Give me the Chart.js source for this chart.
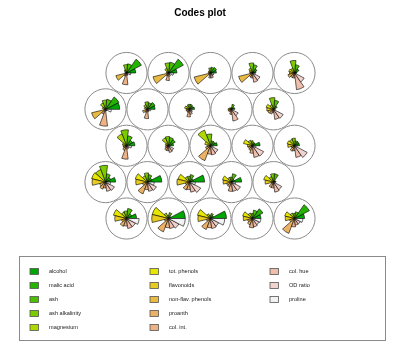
<!DOCTYPE html>
<html>
<head>
<meta charset="utf-8">
<script src="https://cdn.jsdelivr.net/npm/chart.js@4.4.1/dist/chart.umd.min.js"></script>
<style>
  html, body { margin: 0; padding: 0; background: #fff; }
  #wrap { position: relative; width: 406px; height: 359px; }
</style>
</head>
<body>
<div id="wrap"><canvas id="codes" width="406" height="359"></canvas></div>
<script>
// variable names, in segment order (counter-clockwise from east)
const variables = ['alcohol', 'malic acid', 'ash', 'ash alkalinity', 'magnesium',
    'tot. phenols', 'flavonoids', 'non-flav. phenols', 'proanth', 'col. int.',
    'col. hue', 'OD ratio', 'proline'];

// terrain.colors(13)
const segmentColors = ['#00A600', '#24B300', '#4CBF00', '#7ACC00', '#ADD900',
    '#E6E600', '#E7CB21', '#E9BA43', '#EBB165', '#EDB387',
    '#EFBEAA', '#F0D3CE', '#F2F2F2'];

// scaled codebook vectors (0..1), one row of the map per array, top row first
const codesRow1 = [
    [0.55, 1.0, 0.55, 0.5, 0.2, 0.1, 0.05, 0.65, 0.2, 0.7, 0.15, 0.1, 0.25],
    [0.5, 1.0, 0.65, 0.6, 0.3, 0.15, 0.05, 0.95, 0.2, 0.45, 0.2, 0.1, 0.3],
    [0.35, 0.4, 0.35, 0.3, 0.15, 0.15, 0.1, 1.0, 0.15, 0.3, 0.3, 0.2, 0.2],
    [0.2, 0.3, 0.5, 0.6, 0.3, 0.2, 0.15, 0.85, 0.25, 0.3, 0.55, 0.5, 0.15],
    [0.15, 0.3, 0.5, 0.75, 0.3, 0.35, 0.3, 0.4, 0.3, 0.3, 1.0, 0.65, 0.1]
];
const codesRow2 = [
    [0.85, 0.9, 0.6, 0.55, 0.4, 0.2, 0.1, 0.85, 0.3, 1.0, 0.1, 0.1, 0.35],
    [0.45, 0.5, 0.4, 0.45, 0.3, 0.2, 0.1, 0.3, 0.2, 0.55, 0.15, 0.1, 0.2],
    [0.3, 0.25, 0.3, 0.3, 0.25, 0.3, 0.2, 0.2, 0.2, 0.45, 0.3, 0.2, 0.15],
    [0.2, 0.15, 0.3, 0.1, 0.1, 0.15, 0.2, 0.2, 0.15, 0.3, 0.7, 0.45, 0.05],
    [0.1, 0.25, 0.55, 0.7, 0.3, 0.45, 0.4, 0.35, 0.3, 0.2, 0.6, 0.65, 0.1]
];
const codesRow3 = [
    [0.5, 0.4, 0.6, 0.95, 0.75, 0.25, 0.2, 0.2, 0.3, 0.8, 0.2, 0.15, 0.3],
    [0.3, 0.45, 0.5, 0.55, 0.5, 0.2, 0.15, 0.2, 0.3, 0.3, 0.4, 0.35, 0.1],
    [0.4, 0.3, 0.3, 0.7, 1.0, 0.35, 0.2, 0.3, 0.95, 0.5, 0.55, 0.5, 0.15],
    [0.45, 0.2, 0.2, 0.3, 0.35, 0.55, 0.3, 0.25, 0.3, 0.45, 0.7, 0.75, 0.2],
    [0.3, 0.3, 0.3, 0.45, 0.4, 0.45, 0.4, 0.2, 0.35, 0.3, 0.7, 0.85, 0.15]
];
const codesRow4 = [
    [0.6, 0.35, 0.5, 1.0, 0.8, 0.85, 0.8, 0.35, 0.45, 0.35, 0.55, 0.6, 0.3],
    [0.85, 0.3, 0.45, 0.55, 0.4, 0.75, 0.7, 0.3, 0.75, 0.45, 0.55, 0.6, 0.4],
    [0.9, 0.25, 0.45, 0.35, 0.35, 0.7, 0.75, 0.25, 0.5, 0.45, 0.6, 0.75, 0.35],
    [0.6, 0.2, 0.5, 0.3, 0.3, 0.55, 0.5, 0.3, 0.3, 0.55, 0.55, 0.6, 0.25],
    [0.15, 0.1, 0.5, 0.5, 0.35, 0.6, 0.5, 0.15, 0.35, 0.35, 0.6, 0.55, 0.1]
];
const codesRow5 = [
    [0.6, 0.35, 0.6, 0.45, 0.4, 0.8, 0.7, 0.3, 0.5, 0.45, 0.6, 0.6, 0.75],
    [1.0, 0.15, 0.35, 0.2, 0.35, 1.0, 1.0, 0.25, 0.85, 0.55, 0.6, 0.7, 1.0],
    [0.95, 0.2, 0.3, 0.2, 0.3, 0.8, 0.75, 0.25, 0.7, 0.55, 0.6, 0.55, 0.85],
    [0.5, 0.7, 0.5, 0.3, 0.35, 0.6, 0.55, 0.3, 0.4, 0.55, 0.5, 0.45, 0.5],
    [0.6, 1.0, 0.4, 0.3, 0.35, 0.6, 0.55, 0.3, 0.95, 0.5, 0.4, 0.4, 0.5]
];
const codeRows = [codesRow1, codesRow2, codesRow3, codesRow4, codesRow5];

// hexagonal grid: 5 x 5 units, rows 1, 3, 5 shifted half a unit
const units = [];
codeRows.forEach((row, r) => {
    row.forEach((values, c) => {
        units.push({
            x: c + 1 + (r % 2 === 0 ? 0.5 : 0),
            y: (codeRows.length - r) * Math.sqrt(3) / 2,
            values: values
        });
    });
});

const starLen = 0.4;      // stars() len
const circleRadius = 0.49;

// draws the unit circles and segment stars
const codesPlot = {
    id: 'codesPlot',
    afterDatasetsDraw(chart) {
        const ctx = chart.ctx;
        const xs = chart.scales.x;
        const ys = chart.scales.y;
        const unitPx = xs.getPixelForValue(1) - xs.getPixelForValue(0);
        const step = 2 * Math.PI / variables.length;

        ctx.save();
        units.forEach(u => {
            const cx = xs.getPixelForValue(u.x);
            const cy = ys.getPixelForValue(u.y);

            ctx.beginPath();
            ctx.arc(cx, cy, circleRadius * unitPx, 0, Math.PI * 2);
            ctx.strokeStyle = '#8a8a8a';
            ctx.lineWidth = 1;
            ctx.stroke();

            u.values.forEach((v, j) => {
                const r = starLen * v * unitPx;
                ctx.beginPath();
                ctx.moveTo(cx, cy);
                ctx.arc(cx, cy, r, -j * step, -(j + 1) * step, true);
                ctx.closePath();
                ctx.fillStyle = segmentColors[j];
                ctx.fill();
                ctx.strokeStyle = '#000';
                ctx.lineWidth = 0.6;
                ctx.stroke();
            });
        });
        ctx.restore();
    },
    afterDraw(chart) {
        // legend box, three columns of five
        const ctx = chart.ctx;
        ctx.save();
        ctx.strokeStyle = '#8a8a8a';
        ctx.lineWidth = 1;
        ctx.strokeRect(19.5, 256.5, 366, 84);

        const colX = [30, 150, 270];
        ctx.font = '5.6px "Liberation Sans", Arial, sans-serif';
        ctx.textBaseline = 'middle';
        variables.forEach((name, i) => {
            const col = Math.floor(i / 5);
            const row = i % 5;
            const x = colX[col];
            const y = 271.5 + row * 14;
            ctx.fillStyle = segmentColors[i];
            ctx.fillRect(x, y - 3, 8.5, 6);
            ctx.strokeStyle = '#555';
            ctx.lineWidth = 0.8;
            ctx.strokeRect(x, y - 3, 8.5, 6);
            ctx.fillStyle = '#222';
            ctx.fillText(name, x + 19, y);
        });
        ctx.restore();
    }
};

const pxPerUnit = 42;
const xMin = 1 - 105.5 / pxPerUnit;
// top row sits 50px below the top of the plot area
const yMax = codeRows.length * Math.sqrt(3) / 2 + 50 / pxPerUnit;

new Chart(document.getElementById('codes'), {
    type: 'scatter',
    data: {
        datasets: [{
            data: units.map(u => ({ x: u.x, y: u.y })),
            pointRadius: 0
        }]
    },
    options: {
        responsive: false,
        animation: false,
        devicePixelRatio: 1,
        layout: { padding: { top: 0, left: 0, right: 6, bottom: 109 } },
        scales: {
            x: { type: 'linear', display: false, min: xMin, max: xMin + 400 / pxPerUnit },
            y: { type: 'linear', display: false, min: yMax - 227 / pxPerUnit, max: yMax }
        },
        plugins: {
            legend: { display: false },
            tooltip: { enabled: false },
            title: {
                display: true,
                text: 'Codes plot',
                color: '#000',
                font: { size: 10, weight: 'bold', family: '"Liberation Sans", Arial, sans-serif' },
                padding: { top: 7, bottom: 4 }
            }
        }
    },
    plugins: [codesPlot]
});
</script>
</body>
</html>
